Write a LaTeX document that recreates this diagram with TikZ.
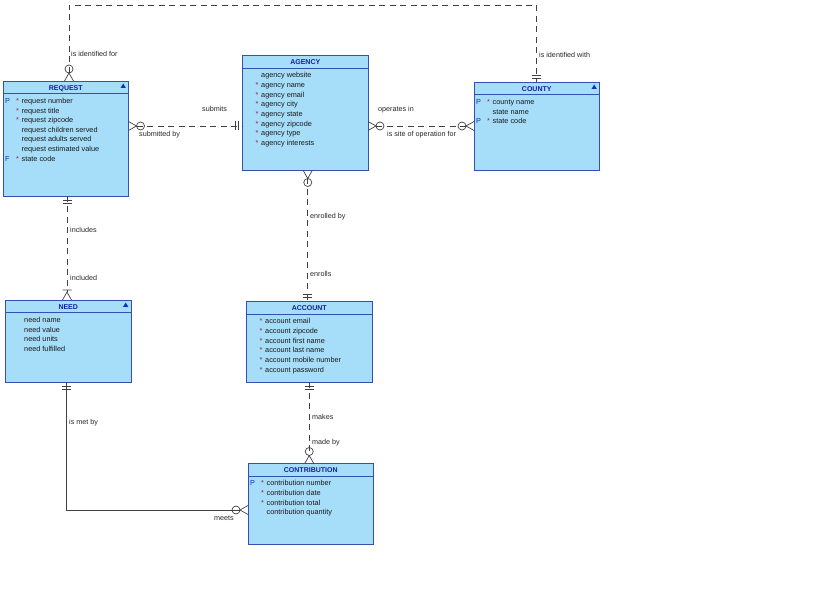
\documentclass[tikz,border=0pt]{standalone}
\usepackage{fontspec}
\setmainfont{Liberation Sans}
\usepackage{array}
\usetikzlibrary{positioning}

\definecolor{entfill}{HTML}{A6DDF9}
\definecolor{entdraw}{HTML}{3550B0}
\definecolor{titleblue}{HTML}{1020A0}
\definecolor{flagblue}{HTML}{1030C0}
\definecolor{starred}{HTML}{A02040}
\definecolor{relgray}{HTML}{404040}

\newcommand{\ekeyP}{\textcolor{flagblue}{P}}
\newcommand{\ekeyF}{\textcolor{flagblue}{F}}
\newcommand{\emand}{\textcolor{starred}{*}}

\begin{document}
\begin{tikzpicture}[x=1pt, y=1pt,
	entity/.style={draw=entdraw, fill=entfill, line width=0.9pt, minimum width=125.5pt, inner sep=0pt, outer sep=0pt, anchor=north west},
	hline/.style={draw=entdraw, line width=0.9pt},
	etitle/.style={font=\fontsize{7}{8}\selectfont\bfseries, text=titleblue, anchor=base, inner sep=0pt},
	attrs/.style={font=\fontsize{7.3}{9.63}\selectfont, text=black!90, anchor=north west, inner sep=0pt},
	tri/.style={fill=flagblue},
	rel/.style={draw=relgray, line width=0.7pt, dash pattern=on 6pt off 4.5pt},
	solidrel/.style={draw=relgray, line width=0.7pt},
	sym/.style={draw=relgray, line width=0.7pt, solid},
	lbl/.style={font=\fontsize{7.2}{8}\selectfont, text=black!85, anchor=base west, inner sep=0pt},
	zeromany/.pic={\draw[sym] (0,4.5) -- (8,0) -- (0,-4.5); \draw[sym] (12,0) circle (4);},
	onlyone/.pic={\draw[sym] (4,4.5) -- (4,-4.5) (7,4.5) -- (7,-4.5);},
	onemany/.pic={\draw[sym] (0,4.5) -- (8,0) -- (0,-4.5) (10,4.5) -- (10,-4.5);}]
	\useasboundingbox (0,0) rectangle (817,-601);

	% entities
	\node[entity, minimum height=115pt] (request) at (3,-81) {};
	\node[entity, minimum height=115pt] (agency) at (242.5,-55.5) {};
	\node[entity, minimum height=88pt, below right=26.5pt and 106pt of agency.north east] (county) {};
	\node[entity, minimum height=82pt, below right=104pt and 2.5pt of request.south west] (need) {};
	\node[entity, minimum height=81pt, below right=131pt and 4pt of agency.south west] (account) {};
	\node[entity, minimum height=81pt, below right=81pt and 1.5pt of account.south west] (contrib) {};

	% header lines
	\draw[hline] ([yshift=-12.5pt]request.north west) -- ([yshift=-12.5pt]request.north east);
	\draw[hline] ([yshift=-12.5pt]agency.north west) -- ([yshift=-12.5pt]agency.north east);
	\draw[hline] ([yshift=-12.5pt]county.north west) -- ([yshift=-12.5pt]county.north east);
	\draw[hline] ([yshift=-12.5pt]need.north west) -- ([yshift=-12.5pt]need.north east);
	\draw[hline] ([yshift=-12.5pt]account.north west) -- ([yshift=-12.5pt]account.north east);
	\draw[hline] ([yshift=-12.5pt]contrib.north west) -- ([yshift=-12.5pt]contrib.north east);

	% titles
	\node[etitle] (request-t) at ([yshift=-9.2pt]request.north) {REQUEST};
	\node[etitle] (agency-t) at ([yshift=-9.2pt]agency.north) {AGENCY};
	\node[etitle] (county-t) at ([yshift=-9.2pt]county.north) {COUNTY};
	\node[etitle] (need-t) at ([yshift=-9.2pt]need.north) {NEED};
	\node[etitle] (account-t) at ([yshift=-9.2pt]account.north) {ACCOUNT};
	\node[etitle] (contrib-t) at ([yshift=-9.2pt]contrib.north) {CONTRIBUTION};

	% triangles
	\fill[tri] ([shift={(-5.3,-2.5)}]request.north east) -- ++(-2.6,-4.4) -- ++(5.2,0) -- cycle;
	\fill[tri] ([shift={(-5.3,-2.5)}]county.north east) -- ++(-2.6,-4.4) -- ++(5.2,0) -- cycle;
	\fill[tri] ([shift={(-5.3,-2.5)}]need.north east) -- ++(-2.6,-4.4) -- ++(5.2,0) -- cycle;

	% attributes
	\node[attrs] (request-a) at ([shift={(2,-15.5)}]request.north west) {%
		\begin{tabular}{@{}p{11pt}@{}p{5.5pt}@{}l@{}}
			\ekeyP & \emand & request number\\
			& \emand & request title\\
			& \emand & request zipcode\\
			& & request children served\\
			& & request adults served\\
			& & request estimated value\\
			\ekeyF & \emand & state code
		\end{tabular}};
	\node[attrs] (agency-a) at ([shift={(2,-15.5)}]agency.north west) {%
		\begin{tabular}{@{}p{11pt}@{}p{5.5pt}@{}l@{}}
			& & agency website\\
			& \emand & agency name\\
			& \emand & agency email\\
			& \emand & agency city\\
			& \emand & agency state\\
			& \emand & agency zipcode\\
			& \emand & agency type\\
			& \emand & agency interests
		\end{tabular}};
	\node[attrs] (county-a) at ([shift={(2,-15.5)}]county.north west) {%
		\begin{tabular}{@{}p{11pt}@{}p{5.5pt}@{}l@{}}
			\ekeyP & \emand & county name\\
			& & state name\\
			\ekeyP & \emand & state code
		\end{tabular}};
	\node[attrs] (need-a) at ([shift={(2,-15.5)}]need.north west) {%
		\begin{tabular}{@{}p{11pt}@{}p{5.5pt}@{}l@{}}
			& & need name\\
			& & need value\\
			& & need units\\
			& & need fulfilled
		\end{tabular}};
	\node[attrs] (account-a) at ([shift={(2,-15.5)}]account.north west) {%
		\begin{tabular}{@{}p{11pt}@{}p{5.5pt}@{}l@{}}
			& \emand & account email\\
			& \emand & account zipcode\\
			& \emand & account first name\\
			& \emand & account last name\\
			& \emand & account mobile number\\
			& \emand & account password
		\end{tabular}};
	\node[attrs] (contrib-a) at ([shift={(2,-15.5)}]contrib.north west) {%
		\begin{tabular}{@{}p{11pt}@{}p{5.5pt}@{}l@{}}
			\ekeyP & \emand & contribution number\\
			& \emand & contribution date\\
			& \emand & contribution total\\
			& & contribution quantity
		\end{tabular}};

	% connector ends
	\coordinate (rq-top) at ([xshift=3.25pt]request.north);
	\coordinate (co-top) at ([xshift=-0.75pt]county.north);
	\coordinate (rq-east) at ([yshift=12.5pt]request.east);
	\coordinate (ag-west) at ([yshift=-13pt]agency.west);
	\coordinate (ag-east) at ([yshift=-13pt]agency.east);
	\coordinate (ag-bot) at ([xshift=2.5pt]agency.south);
	\coordinate (ac-top) at ([xshift=-1.5pt]account.north);
	\coordinate (rq-bot) at ([xshift=1.25pt]request.south);
	\coordinate (ne-top) at ([xshift=-1.25pt]need.north);
	\coordinate (ct-top) at ([xshift=-1.5pt]contrib.north);
	\coordinate (ne-bot) at ([xshift=-1.75pt]need.south);
	\coordinate (ct-west) at ([yshift=-6pt]contrib.west);

	% relations
	\draw[rel, shorten <=8pt] (rq-top) -- ++(0,76) -| (co-top);
	\draw[rel, shorten <=8pt] (rq-east) -- (ag-west);
	\draw[rel, shorten <=8pt, shorten >=8pt] (ag-east) -- (county.west);
	\draw[rel, shorten <=8pt] (ag-bot) -- (ac-top);
	\draw[rel, shorten >=8pt] (rq-bot) -- (ne-top);
	\draw[rel, shorten >=8pt] (account.south) -- (ct-top);
	\draw[solidrel, shorten >=8pt] (ne-bot) |- (ct-west);

	\pic[rotate=90] at (rq-top) {zeromany};
	\pic[rotate=90] at (co-top) {onlyone};
	\pic at (rq-east) {zeromany};
	\pic[rotate=180] at (ag-west) {onlyone};
	\pic at (ag-east) {zeromany};
	\pic[rotate=180] at (county.west) {zeromany};
	\pic[rotate=-90] at (ag-bot) {zeromany};
	\pic[rotate=90] at (ac-top) {onlyone};
	\pic[rotate=-90] at (rq-bot) {onlyone};
	\pic[rotate=90] at (ne-top) {onemany};
	\pic[rotate=-90] at (account.south) {onlyone};
	\pic[rotate=90] at (ct-top) {zeromany};
	\pic[rotate=-90] at (ne-bot) {onlyone};
	\pic[rotate=180] at (ct-west) {zeromany};

	% labels
	\node[lbl] (l-idfor) at (71,-56.4) {is identified for};
	\node[lbl] (l-idwith) at (539,-57.4) {is identified with};
	\node[lbl] (l-submits) at (202,-111.4) {submits};
	\node[lbl] (l-submby) at (139,-136.4) {submitted by};
	\node[lbl] (l-opin) at (378,-111.4) {operates in};
	\node[lbl] (l-site) at (387,-136.4) {is site of operation for};
	\node[lbl] (l-enrby) at (310,-219) {enrolled by};
	\node[lbl] (l-enrolls) at (310,-276.4) {enrolls};
	\node[lbl] (l-incl) at (70,-232.4) {includes};
	\node[lbl] (l-included) at (70,-280.4) {included};
	\node[lbl] (l-makes) at (312,-419.4) {makes};
	\node[lbl] (l-madeby) at (312,-444.4) {made by};
	\node[lbl] (l-metby) at (69,-424.4) {is met by};
	\node[lbl] (l-meets) at (214,-520) {meets};
\end{tikzpicture}
\end{document}
